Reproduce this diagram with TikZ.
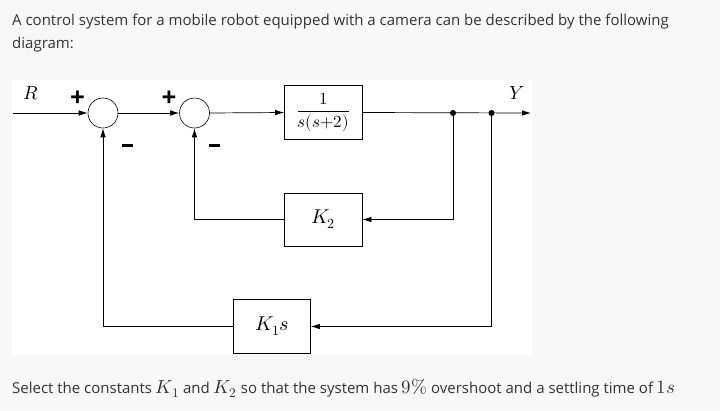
\documentclass[tikz,border=0pt]{standalone}
\usepackage{fontspec}
\setmainfont{Open Sans}
\usepackage{unicode-math}
\setmathfont{Latin Modern Math}
\usetikzlibrary{arrows.meta}
\definecolor{pagebg}{HTML}{F8F8F8}
\definecolor{txt}{HTML}{333333}
\begin{document}
\begin{tikzpicture}[x=1pt,y=-1pt,
  blk/.style={draw,line width=0.8pt,inner sep=0pt,fill=white},
  sum/.style={draw,circle,minimum size=30pt,inner sep=0pt,line width=0.6pt},
  sig/.style={line width=0.7pt,-{Latex[length=9pt,width=5.5pt]}},
  sgn/.style={font=\fontsize{26}{26}\selectfont\bfseries,inner sep=0pt},
  dot/.style={circle,fill,inner sep=0pt,minimum size=6pt},
  para/.style={anchor=base west,inner sep=0pt,text=txt,font=\fontsize{15}{18}\selectfont}]
\fill[pagebg] (0,0) rectangle (720,410);
\fill[white] (12,80) rectangle (532,355);
\node[para] (t1) at (12,25) {A control system for a mobile robot equipped with a camera can be described by the following};
\node[para] (t2) at (12,48) {diagram:};
\node[para] (t3) at (12,393) {Select the constants {\fontsize{19}{19}\selectfont$K_1$} and {\fontsize{19}{19}\selectfont$K_2$} so that the system has {\fontsize{19}{19}\selectfont$9\%$} overshoot and a settling time of {\fontsize{19}{19}\selectfont$1s$}};
\coordinate (in) at (13,113);
\node[sum] (s1) at (103,113) {};
\node[sum] (s2) at (194.5,113) {};
\node[blk,minimum width=77.5pt,minimum height=54pt] (g) at (323.25,112.5) {\fontsize{17}{17}\selectfont$\dfrac{1}{s(s{+}2)}$};
\node[blk,minimum width=77.5pt,minimum height=53pt] (k2) at (323.25,219.5) {\fontsize{20}{20}\selectfont$K_2$};
\node[blk,minimum width=77pt,minimum height=54pt] (k1) at (272,326.5) {\fontsize{20}{20}\selectfont$K_1s$};
\node[dot] (d1) at (453,113) {};
\node[dot] (d2) at (491.5,113) {};
\coordinate (out) at (531,113);
\node[font=\fontsize{19}{19}\selectfont] (R) at (31,93) {$R$};
\node[font=\fontsize{19}{19}\selectfont] (Y) at (516.5,93) {$Y$};
\node[sgn] (p1) at (77.5,99) {+};
\node[sgn] (p2) at (169,99) {+};
\fill (121.5,143.5) rectangle (132.5,146.5);
\fill (208.5,143.5) rectangle (219.5,146.5);
\draw[sig] (in) -- (s1.west);
\draw[sig] (s1.east) -- (s2.west);
\draw[sig] (s2.east) -- (g.west);
\draw[sig] (g.east) -- (out);
\draw[sig] (d1.center) |- (k2.east);
\draw[sig] (d2.center) |- (k1.east);
\draw[sig] (k2.west) -| (s2.south);
\draw[sig] (k1.west) -| (s1.south);
\end{tikzpicture}
\end{document}
